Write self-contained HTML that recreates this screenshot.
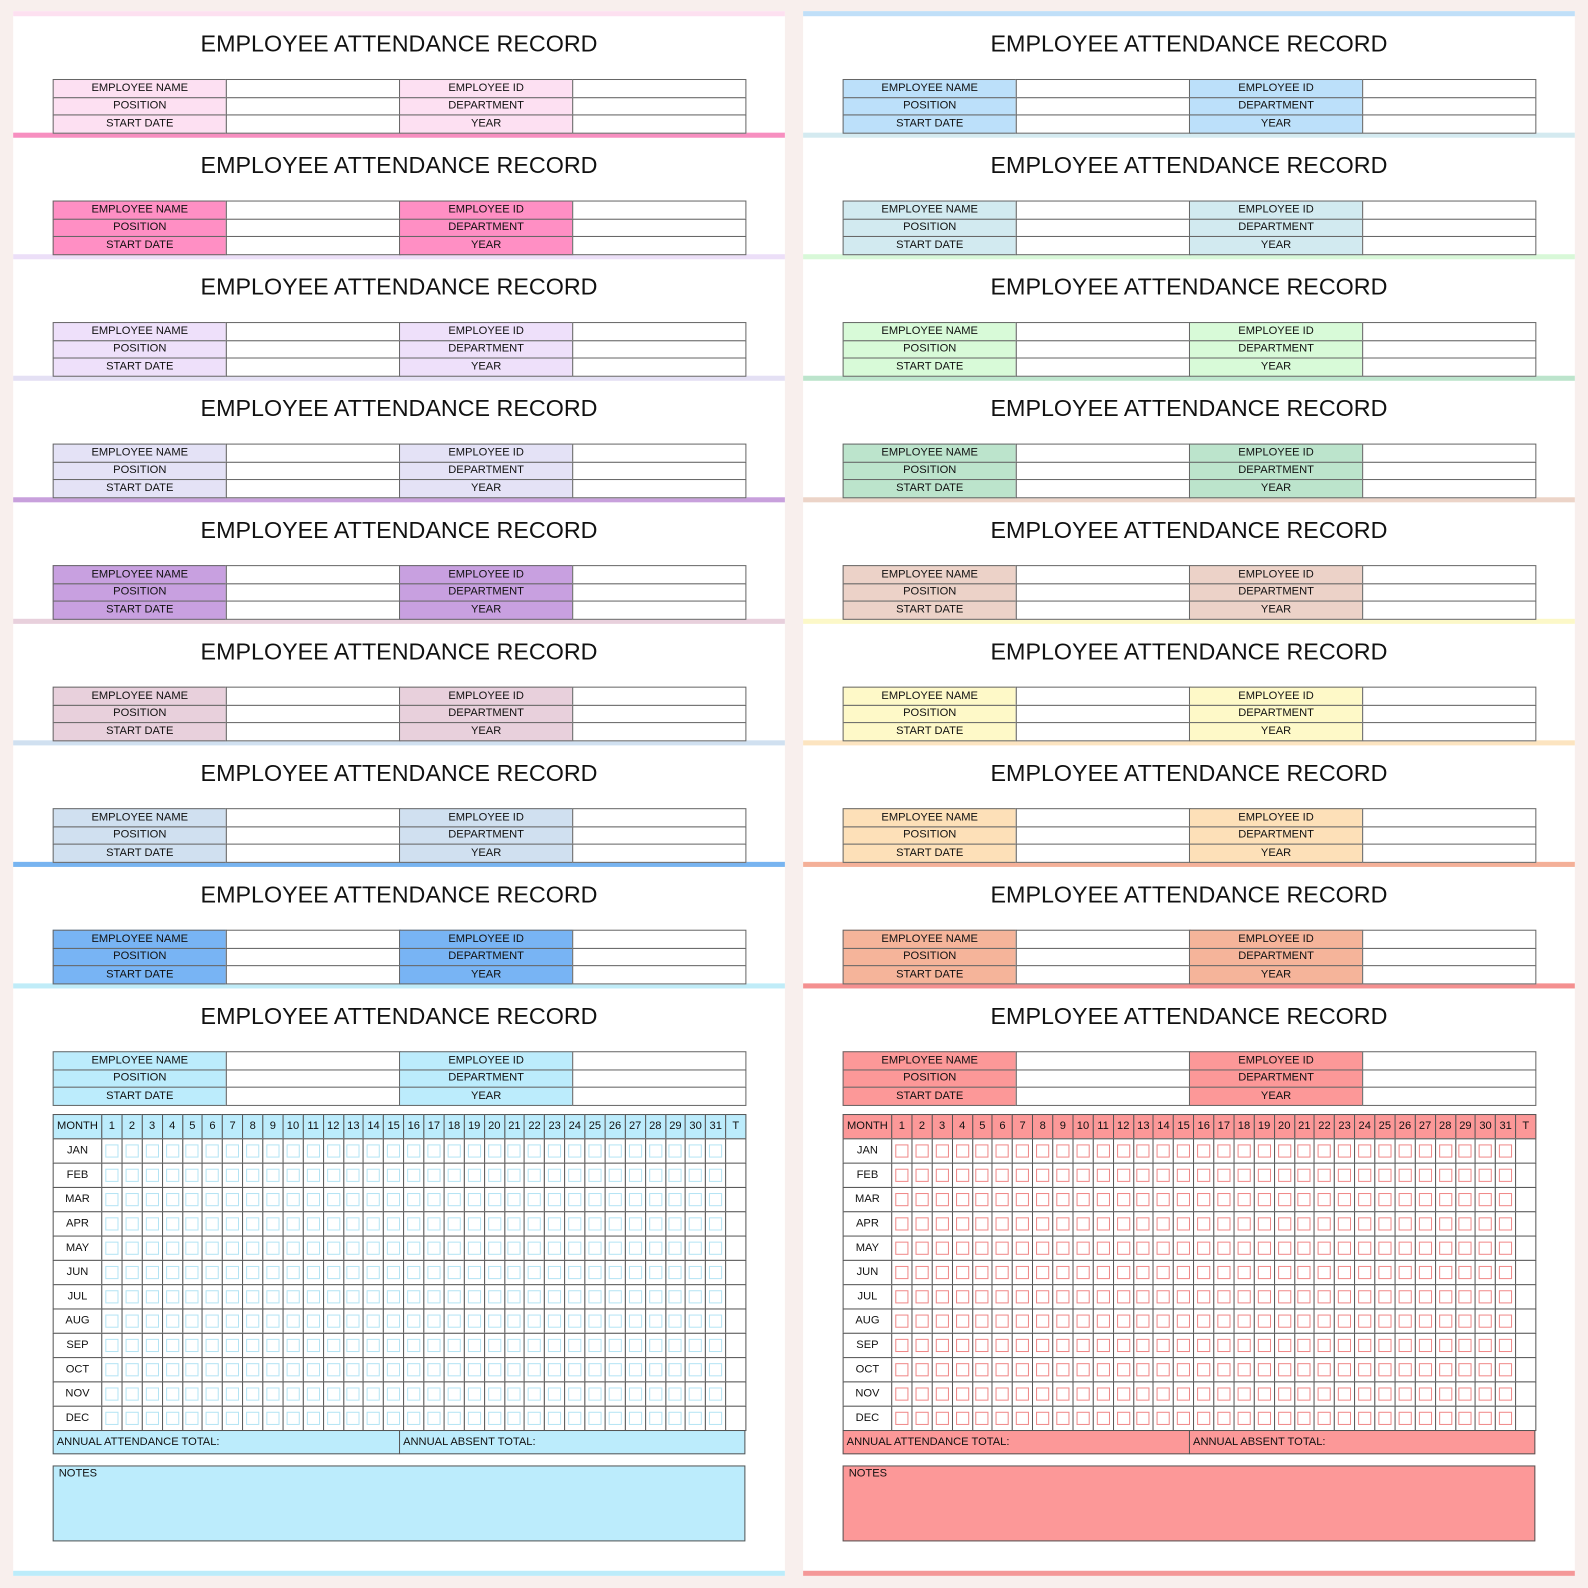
<!DOCTYPE html>
<html><head><meta charset="utf-8">
<style>
html,body{margin:0;padding:0;background:#f8efed;width:1588px;height:1588px;overflow:hidden}
#wrap{position:absolute;left:0;top:0;width:1568px;height:1568px;transform:scale(1.012755);transform-origin:0 0;font-family:"Liberation Sans",Arial,sans-serif;color:#111}
.abs{position:absolute;box-sizing:border-box}
.panel{background:#fff}
.title{font-size:23px;text-align:center;white-space:nowrap}
.cell{font-size:11px;text-align:center;border:1px solid #666;display:flex;align-items:center;justify-content:center;line-height:1}
.g{font-size:11px;display:flex;align-items:center;justify-content:center;border:1px solid #555;line-height:1}
.box{width:11px;height:11px;border:1px solid}
</style></head>
<body>
<div id="wrap"></div>
<script>
const leftHead=["#fde0f2","#ff8fc4","#eee0fa","#e4e2f6","#c8a0e0","#e8d0dc","#d0e0f0","#78b4f4","#bcecfc"];
const rightHead=["#bce0fa","#d2eaf0","#d8fad8","#bce4cc","#ecd2c8","#fef9c8","#fde0b8","#f5b49a","#fc9898"];
const leftStripe=["#fde0f0","#f78fc0","#ecdff8","#e4e0f4","#c8a0dc","#e8d0dc","#d0e0f0","#78b4f0","#c0ecf8","#bcecfa"];
const rightStripe=["#c0dff8","#d4eaf0","#d8f8d8","#bce4cc","#ecd4c8","#fcf8c8","#fce4c0","#f4b098","#f49090","#f49898"];
const months=["JAN","FEB","MAR","APR","MAY","JUN","JUL","AUG","SEP","OCT","NOV","DEC"];
const days=Array.from({length:31},(_,i)=>String(i+1));
const W=document.getElementById('wrap');
function mk(cls,x,y,w,h,txt,bg){const d=document.createElement('div');d.className='abs '+cls;d.style.left=x+'px';d.style.top=y+'px';d.style.width=w+'px';d.style.height=h+'px';if(bg)d.style.background=bg;if(txt!=null)d.textContent=txt;W.appendChild(d);return d;}
function panel(px,heads,stripes,boxColor,side){
  const p=mk('panel',px,11,762,1545);
  
  
  stripes.forEach((c,i)=>{const y=i<9?11+120*i:1551;const s=mk('',px,y,762,5,null,c);
    
    });
  const tx=px+39;
  heads.forEach((c,k)=>{
    const oy=120*k;
    const t=mk('title',px,oy+30,762,28,'EMPLOYEE ATTENDANCE RECORD');
    
    
    const L=[["EMPLOYEE NAME","EMPLOYEE ID"],["POSITION","DEPARTMENT"],["START DATE","YEAR"]];
    const cx=[0,171,342,513],cw=[171,172,171,171];
    L.forEach((r,ri)=>{const y=oy+78+ri*17.6;
      for(let ci=0;ci<4;ci++){
        const lab=ci%2==0;
        const e=mk('cell',tx+cx[ci],y,cw[ci]+1,18.6,lab?r[ci/2]:'',lab?c:'#fff');
        
        
      }});
  });
  // grid
  const gy=1100,cw=19.875,mx=tx+48;
  const hd=mk('g',tx,gy,49,25,'MONTH',heads[8]);
  
  
  days.concat(['T']).forEach((d,i)=>{const e=mk('g',mx+i*cw,gy,cw+1,25,d,heads[8]);
    
    });
  months.forEach((m,r)=>{const y=gy+24+r*24;
    const e=mk('g',tx,y,49,25,m,'#fff');
    
    
    for(let i=0;i<32;i++){const c=mk('g',mx+i*cw,y,cw+1,25,null,'#fff');
      
      
      if(i<31){const b=document.createElement('div');b.className='box';b.style.borderColor=boxColor;c.appendChild(b);
        
        }}
  });
  const ty=gy+24+12*24;
  const a=mk('g',tx,ty,343,24,'ANNUAL ATTENDANCE TOTAL:',heads[8]);a.style.justifyContent='flex-start';a.style.paddingLeft='3px';
  
  
  const b=mk('g',tx+342,ty,342,24,'ANNUAL ABSENT TOTAL:',heads[8]);b.style.justifyContent='flex-start';b.style.paddingLeft='3px';
  
  
  const n=mk('g',tx,1447,684,75,'NOTES',heads[8]);n.style.alignItems='flex-start';n.style.justifyContent='flex-start';n.style.padding='2px 5px';
  
  
}
panel(13,leftHead,leftStripe,'#b4e4f4','left');
panel(793,rightHead,rightStripe,'#f08888','right');
</script>
</body></html>
